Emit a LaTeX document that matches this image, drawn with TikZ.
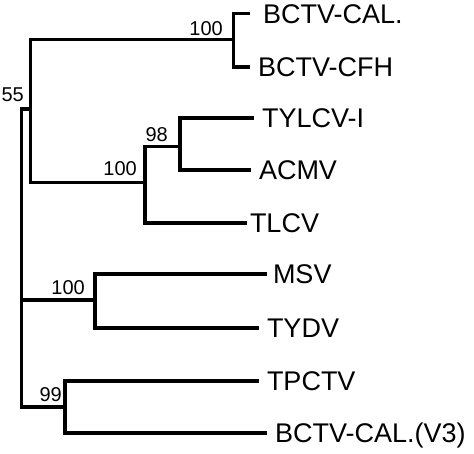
\documentclass[tikz,border=0pt]{standalone}
\usepackage{fontspec}
\setmainfont{Liberation Sans}
\begin{document}
\begin{tikzpicture}[x=1pt,y=-1pt,
  branch/.style={line width=3.2pt, line cap=rect, line join=miter},
  leaf/.style={anchor=west, font=\fontsize{27}{27}\selectfont, inner sep=0pt, outer xsep=#1, text height=19.3pt, text depth=0pt},
  leaf/.default=10pt,
  boot/.style={anchor=south east, font=\fontsize{20}{20}\selectfont, inner sep=0pt}]
\useasboundingbox (0,0) rectangle (474,453);
% internal nodes
\coordinate (root) at (21.5,258);
\coordinate (n55) at (30.5,109);
\coordinate (nB) at (233.5,39.5);
\coordinate (nT) at (145,182.5);
\coordinate (nTY) at (180,146.5);
\coordinate (nM) at (95,300);
\coordinate (nP) at (65,407);
% leaves
\node[leaf=15pt] (cal) at (248,13.5) {BCTV-CAL.};
\node[leaf] (cfh) at (248,67) {BCTV-CFH};
\node[leaf] (tylcv) at (252,118) {TYLCV-I};
\node[leaf] (acmv) at (249,170) {ACMV};
\node[leaf=5pt] (tlcv) at (245,223) {TLCV};
\node[leaf=8pt] (msv) at (265,274) {MSV};
\node[leaf] (tydv) at (257,328) {TYDV};
\node[leaf] (tpctv) at (257,381) {TPCTV};
\node[leaf] (v3) at (265,433) {BCTV-CAL.(V3)};
% branches
\draw[branch] (root) |- (n55);
\draw[branch] (root) |- (nM);
\draw[branch] (root) |- (nP);
\draw[branch] (n55) |- (nB);
\draw[branch] (n55) |- (nT);
\draw[branch] (nB) |- (cal.west);
\draw[branch] (nB) |- (cfh.west);
\draw[branch] (nT) |- (nTY);
\draw[branch] (nT) |- (tlcv.west);
\draw[branch] (nTY) |- (tylcv.west);
\draw[branch] (nTY) |- (acmv.west);
\draw[branch] (nM) |- (msv.west);
\draw[branch] (nM) |- (tydv.west);
\draw[branch] (nP) |- (tpctv.west);
\draw[branch] (nP) |- (v3.west);
% bootstrap values
\node[boot] (b55) at (24,102) {55};
\node[boot] (bB) at (223,36) {100};
\node[boot] (bTY) at (168,142) {98};
\node[boot] (bT) at (137,176) {100};
\node[boot] (bM) at (85,295) {100};
\node[boot] (bP) at (62,402) {99};
\end{tikzpicture}
\end{document}
